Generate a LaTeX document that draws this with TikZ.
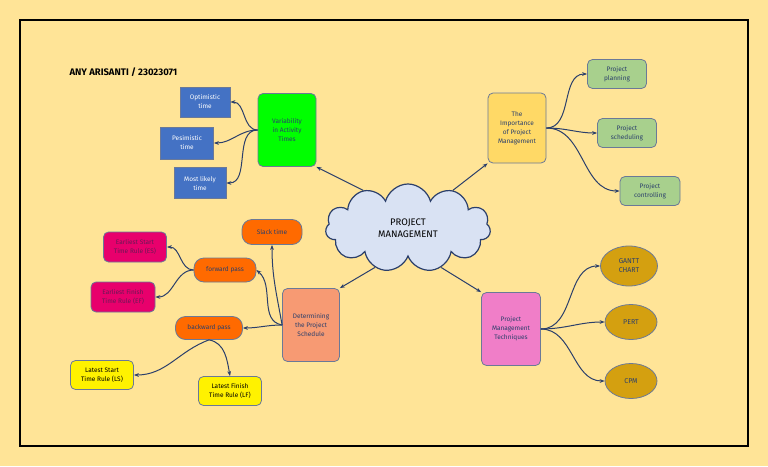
\documentclass[tikz,border=0pt]{standalone}
\usepackage{fontspec}
\setmainfont{Fira Sans}
\usetikzlibrary{shapes.symbols,shapes.geometric,arrows.meta}
\definecolor{bg}{HTML}{FFE497}
\definecolor{ln}{HTML}{2B3F6B}
\definecolor{gr}{HTML}{A8D08D}
\definecolor{bl}{HTML}{4472C4}
\definecolor{mg}{HTML}{E8006C}
\definecolor{mgt}{HTML}{6A1A55}
\definecolor{org}{HTML}{FF6A00}
\definecolor{cl}{HTML}{D9E2F3}
\definecolor{yl}{HTML}{FFD966}
\definecolor{sal}{HTML}{F79A73}
\definecolor{pk}{HTML}{F07EC8}
\definecolor{gd}{HTML}{D4A010}
\tikzset{
 box/.style={draw=ln!70,line width=0.8pt,rounded corners=5pt,align=center,font=\fontsize{6.5}{9}\selectfont,text=ln,inner sep=1pt},
 pill/.style={box,rounded corners=10pt,fill=org},
 ar/.style={draw=ln,line width=1pt,-{Stealth[length=5pt]}},
 ell/.style={ellipse,draw=ln!70,line width=0.8pt,fill=gd,font=\fontsize{7}{9}\selectfont,text=ln,align=center,inner sep=0pt},
}
\begin{document}
\begin{tikzpicture}[x=1pt,y=-1pt]
\fill[bg] (0,0) rectangle (768,466);
\useasboundingbox (0,0) rectangle (768,466);
\draw[line width=1.5pt] (20,20) rectangle (748,446);
\node[anchor=west,font=\bfseries\fontsize{9.5}{11}\selectfont] (title) at (66,72) {ANY ARISANTI / 23023071};
\node[cloud,cloud puffs=11,aspect=1.9,draw=ln,line width=1.2pt,fill=cl,minimum width=165pt,minimum height=88pt,align=center,font=\fontsize{9.5}{12}\selectfont] (pm) at (408,228) {PROJECT\\MANAGEMENT};
\node[box,fill=green,minimum width=58pt,minimum height=73pt] (var) at (287,130) {Variability\\in Activity\\Times};
\node[box,fill=bl,rounded corners=0pt,text=white,minimum width=50pt,minimum height=30pt] (opt) at (205,102) {Optimistic\\time};
\node[box,fill=bl,rounded corners=0pt,text=white,minimum width=53pt,minimum height=32pt] (pes) at (187,143) {Pesimistic\\time};
\node[box,fill=bl,rounded corners=0pt,text=white,minimum width=52pt,minimum height=31pt] (ml) at (200,183) {Most likely\\time};
\node[box,fill=yl,minimum width=58pt,minimum height=70pt] (imp) at (517,128) {The\\Importance\\of Project\\Management};
\node[box,fill=gr,minimum width=59pt,minimum height=29pt] (pl) at (617,74) {Project\\planning};
\node[box,fill=gr,minimum width=59pt,minimum height=29pt] (sc) at (627,133) {Project\\scheduling};
\node[box,fill=gr,minimum width=60pt,minimum height=29pt] (co) at (650,191) {Project\\controlling};
\node[box,fill=sal,minimum width=57pt,minimum height=73pt] (det) at (311,325) {Determining\\the Project\\Schedule};
\node[pill,minimum width=60pt,minimum height=25pt] (sl) at (272,232) {Slack time};
\node[pill,minimum width=62pt,minimum height=24pt] (fw) at (225,270) {forward pass};
\node[pill,minimum width=67pt,minimum height=23pt] (bw) at (209,328) {backward pass};
\node[box,fill=mg,text=mgt,minimum width=63pt,minimum height=30pt] (es) at (135,247) {Earliest Start\\Time Rule (ES)};
\node[box,fill=mg,text=mgt,minimum width=64pt,minimum height=30pt] (ef) at (123,297) {Earliest Finish\\Time Rule (EF)};
\node[box,fill=yellow,minimum width=63pt,minimum height=29pt,text=black] (ls) at (102,375) {Latest Start\\Time Rule (LS)};
\node[box,fill=yellow,minimum width=63pt,minimum height=29pt,text=black] (lf) at (230,391) {Latest Finish\\Time Rule (LF)};
\node[box,fill=pk,minimum width=59pt,minimum height=73pt] (tec) at (511,329) {Project\\Management\\Techniques};
\node[ell,minimum width=57pt,minimum height=40pt] (ga) at (629,266) {GANTT\\CHART};
\node[ell,minimum width=52pt,minimum height=35pt] (pe) at (631,322) {PERT};
\node[ell,minimum width=52pt,minimum height=35pt] (cp) at (631,381) {CPM};
% main
\draw[ar] (pm.140) -- (var.south east);
\draw[ar] (pm.40) -- (imp.south west);
\draw[ar] (pm.230) -- (det.north east);
\draw[ar] (pm.310) -- (tec.north west);
% variability
\draw[ar] (var.west) to[out=180,in=0] (opt.east);
\draw[ar] (var.west) to[out=180,in=0] (pes.east);
\draw[ar] (var.west) to[out=180,in=0] (ml.east);
% importance
\draw[ar] (imp.east) to[out=0,in=180] (pl.west);
\draw[ar] (imp.east) to[out=0,in=180] (sc.west);
\draw[ar] (imp.east) to[out=0,in=180] (co.west);
% techniques
\draw[ar] (tec.east) to[out=0,in=180] (ga.west);
\draw[ar] (tec.east) to[out=0,in=180] (pe.west);
\draw[ar] (tec.east) to[out=0,in=180] (cp.west);
% determining
\draw[ar] (det.west) to[out=100,in=270] (sl.south);
\draw[ar] (det.west) to[out=170,in=-40] (fw.east);
\draw[ar] (det.west) to[out=180,in=0] (bw.east);
\draw[ar] (fw.west) to[out=180,in=0] (es.east);
\draw[ar] (fw.west) to[out=180,in=0] (ef.east);
\draw[ar] (bw.south) to[out=200,in=0] (ls.east);
\draw[ar] (bw.south) to[out=-10,in=100] (lf.north);
\end{tikzpicture}
\end{document}
